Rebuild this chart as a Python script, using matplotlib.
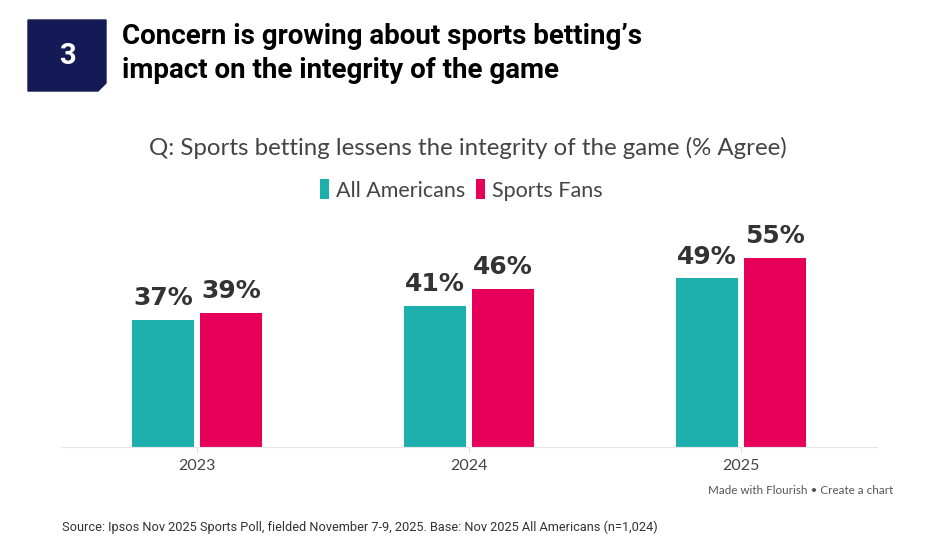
import matplotlib.pyplot as plt
from matplotlib.patches import Polygon
import numpy as np

years = ["2023", "2024", "2025"]
all_americans = [37, 41, 49]
sports_fans = [39, 46, 55]
series_names = ["All Americans", "Sports Fans"]

teal = "#1cafab"
pink = "#e6005a"
navy = "#131a56"

fig = plt.figure(figsize=(9.44, 5.54), dpi=100)
W, H = 944, 554

# header box with the cut corner
box = Polygon([(28/W, 1-20/H), (106/W, 1-20/H), (106/W, 1-83/H),
               (98/W, 1-91/H), (28/W, 1-91/H)], closed=True,
              transform=fig.transFigure, color=navy)
fig.patches.append(box)
fig.text(67/W, 1-56/H, "3", color="white", fontsize=21, fontweight="bold",
         family="Roboto", ha="center", va="center")
fig.text(122/W, 1-36/H, "Concern is growing about sports betting\u2019s",
         fontsize=20, fontweight="bold", family="Roboto", va="center")
fig.text(122/W, 1-70/H, "impact on the integrity of the game",
         fontsize=20, fontweight="bold", family="Roboto", va="center")

fig.text(468/W, 1-148/H, "Q: Sports betting lessens the integrity of the game (% Agree)",
         fontsize=17.3, color="#444444", family="Lato", ha="center", va="center")

ax = fig.add_axes([61/W, 1-447/H, 816/W, 344/H])
x = np.arange(len(years))
w = 0.228
b1 = ax.bar(x - 0.125, all_americans, w, color=teal, label=series_names[0])
b2 = ax.bar(x + 0.125, sports_fans, w, color=pink, label=series_names[1])
for bars, vals in ((b1, all_americans), (b2, sports_fans)):
    for r, v in zip(bars, vals):
        ax.annotate("%d%%" % v, (r.get_x() + r.get_width()/2, v),
                    xytext=(0, 7), textcoords="offset points", ha="center",
                    va="bottom", fontsize=18, fontweight="bold", color="#333333",
                    family="DejaVu Sans", annotation_clip=False)

ax.set_xlim(-0.5, 2.5)
ax.set_ylim(0, 100)
ax.set_yticks([])
ax.set_xticks(x)
ax.set_xticklabels(years, fontsize=11.5, color="#444444", family="Lato")
ax.tick_params(axis="x", length=4, color="#dddddd", pad=5)
for s in ["top", "right", "left"]:
    ax.spines[s].set_visible(False)
ax.spines["bottom"].set_color("#e6e6e6")
ax.patch.set_alpha(0)

leg = fig.legend(handles=[b1, b2], loc="center", bbox_to_anchor=(461/W, 1-190/H),
                 ncol=2, frameon=False, handlelength=0.45, handleheight=1.0,
                 handletextpad=0.3, columnspacing=0.5,
                 prop={"family": "Lato", "size": 15.5})
for t in leg.get_texts():
    t.set_color("#444444")

fig.text(893/W, 1-491/H, "Made with Flourish \u2022 Create a chart", fontsize=8.4,
         color="#555555", family="Lato", ha="right", va="center")
fig.text(62/W, 1-527/H,
         "Source: Ipsos Nov 2025 Sports Poll, fielded November 7-9, 2025. Base: Nov 2025 All Americans (n=1,024)",
         fontsize=9.2, color="#333333", family="Roboto", va="center")

fig.savefig("out.png", dpi=100)
